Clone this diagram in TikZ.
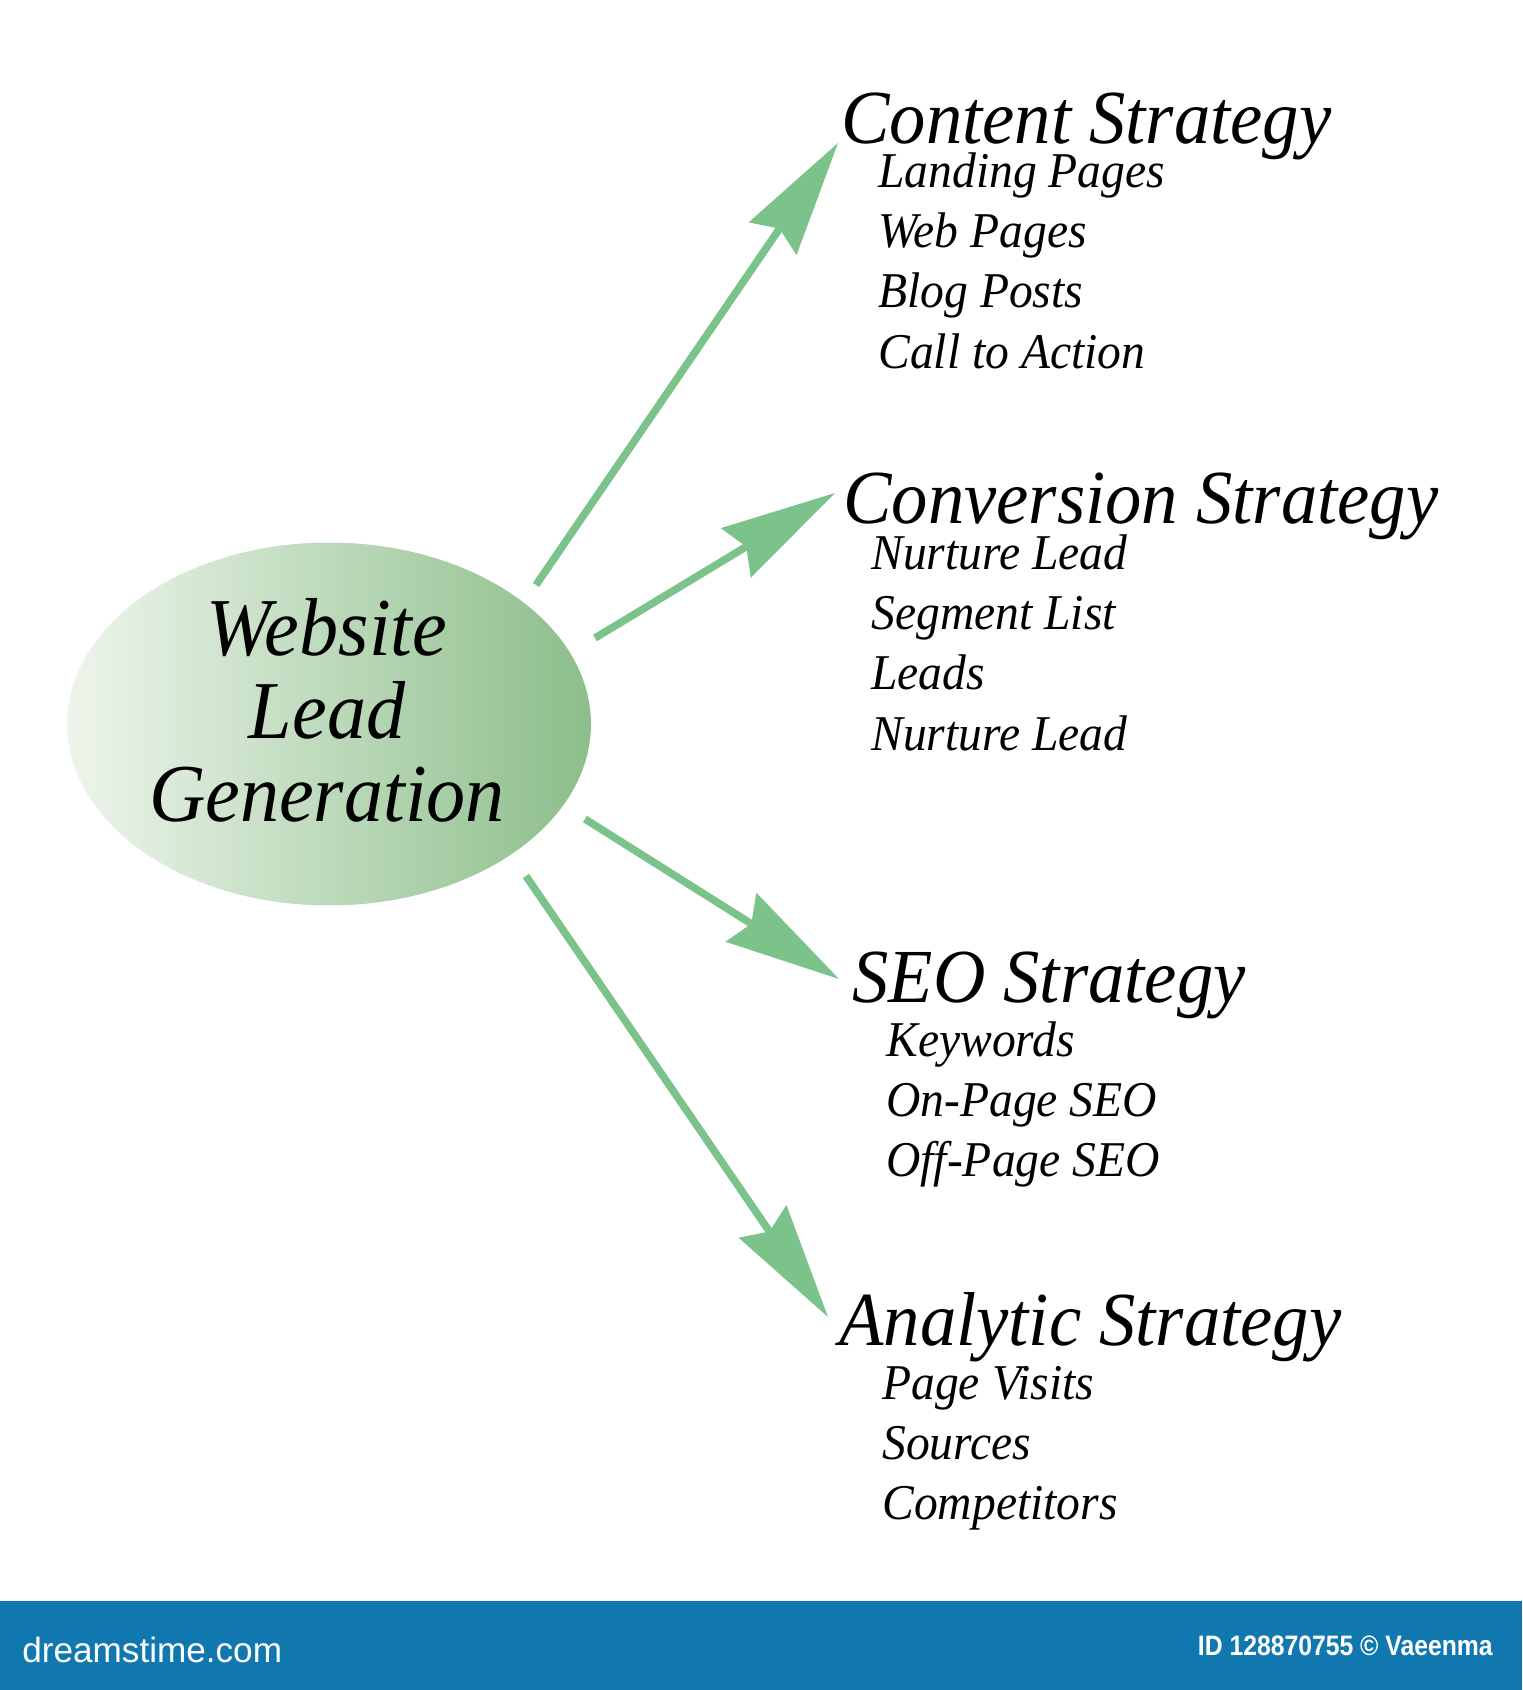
\documentclass[tikz,border=0pt]{standalone}
\usepackage{fontspec}
\newfontfamily\diagfont[FakeStretch=0.95]{Liberation Serif}
\newfontfamily\bannerfont{Liberation Sans}
\newfontfamily\idfont[FakeStretch=0.88]{Liberation Sans}
\usetikzlibrary{arrows.meta,shapes.geometric}
\definecolor{arrowgreen}{RGB}{124,195,139}
\definecolor{ovalleft}{RGB}{238,245,236}
\definecolor{ovalright}{RGB}{140,190,138}
\definecolor{bannerblue}{RGB}{16,120,175}
\tikzset{
	lead/.style={-{Stealth[length=66pt,width=33pt,inset=7pt,line width=0pt]},
			line width=4.3pt, draw=arrowgreen},
	headline/.style={anchor=base west, inner sep=0pt,
			font=\diagfont\itshape\fontsize{43.5}{44}\selectfont},
	item/.style={anchor=base west, inner sep=0pt,
			font=\diagfont\itshape\fontsize{28.5}{30}\selectfont}
}

\begin{document}
\begin{tikzpicture}[x=0.02cm, y=-0.02cm]
		\useasboundingbox (0, 0) rectangle (1522, 1690);
		% centre oval
		\node[ellipse, minimum width=10.48cm, minimum height=7.26cm, inner sep=0pt,
			left color=ovalleft, right color=ovalright] (wlg) at (329, 724) {};
		\node[align=center, inner sep=0pt, font=\diagfont\itshape\fontsize{46.8}{47.3}\selectfont]
			(wlgtext) at (327, 710) {Website\\Lead\\Generation};
		% strategies
		\node[headline] (content) at (841, 143) {Content Strategy};
		\node[headline] (conversion) at (843, 523) {Conversion Strategy};
		\node[headline] (seo) at (852, 1002) {SEO Strategy};
		\node[headline] (analytic) at (839, 1345) {Analytic Strategy};
		\foreach \txt [count=\i from 0] in {Landing Pages, Web Pages, Blog Posts, Call to Action}
			\node[item] (cont\i) at (878, {187 + 60.4*\i}) {\txt};
		\foreach \txt [count=\i from 0] in {Nurture Lead, Segment List, Leads, Nurture Lead}
			\node[item] (conv\i) at (871, {569 + 60.4*\i}) {\txt};
		\foreach \txt [count=\i from 0] in {Keywords, On-Page SEO, Off-Page SEO}
			\node[item] (seo\i) at (886, {1056 + 60.4*\i}) {\txt};
		\foreach \txt [count=\i from 0] in {Page Visits, Sources, Competitors}
			\node[item] (ana\i) at (882, {1399 + 60.4*\i}) {\txt};
		% arrows
		\coordinate (contfrom) at (536, 585);
		\coordinate (contto) at (838, 143);
		\coordinate (convfrom) at (595, 638);
		\coordinate (convto) at (835, 493);
		\coordinate (seofrom) at (585, 819);
		\coordinate (seoto) at (839, 979);
		\coordinate (anafrom) at (526, 876);
		\coordinate (anato) at (828, 1317);
		\draw[lead] (contfrom) -- (contto);
		\draw[lead] (convfrom) -- (convto);
		\draw[lead] (seofrom) -- (seoto);
		\draw[lead] (anafrom) -- (anato);
		% banner
		\fill[bannerblue] (0, 1601) rectangle (1522, 1690);
		\node[anchor=west, inner sep=0pt, text=white, font=\bannerfont\fontsize{20}{22}\selectfont]
			(site) at (22, 1650) {dreamstime.com};
		\node[anchor=east, inner sep=0pt, text=white, font=\idfont\bfseries\fontsize{16}{18}\selectfont]
			(imgid) at (1493, 1646) {ID 128870755 © Vaeenma};
	\end{tikzpicture}
\end{document}
